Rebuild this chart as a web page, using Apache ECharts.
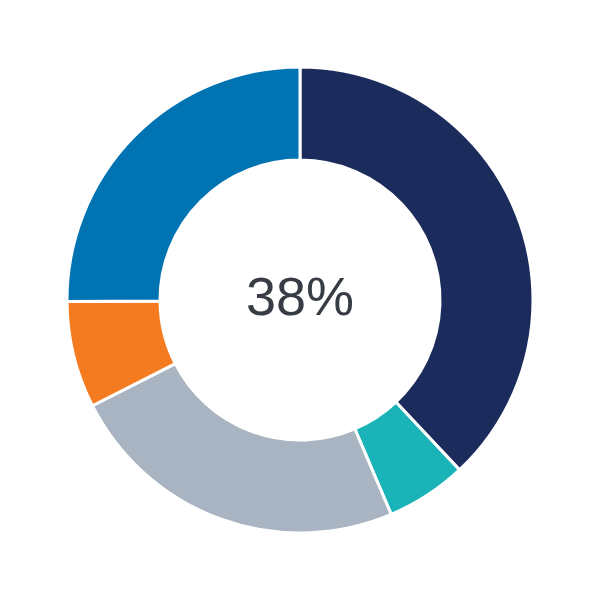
<!DOCTYPE html>
<html lang="en">
<head>
    <meta charset="UTF-8">
    <title>Donut</title>
    <style>
        html, body { margin: 0; padding: 0; background: #fff; }
    </style>
</head>
<body>

<div id="main" style="width: 600px;height:600px;"></div>

<script src="https://cdn.jsdelivr.net/npm/echarts@6/dist/echarts.min.js"></script>
<script type="text/javascript">
    // data, clockwise from 12 o'clock
    var names = ['A', 'B', 'C', 'D', 'E'];
    var values = [38, 5.6, 23.9, 7.4, 25.1];
    var colors = ['#1b2b5b', '#1ab3b8', '#a9b4c2', '#f47b20', '#0073b3'];
    var centerText = '38%';

    var data = names.map(function (n, i) {
        return { name: n, value: values[i], itemStyle: { color: colors[i] } };
    });

    var myChart = echarts.init(document.getElementById('main'));

    var option = {
        animation: false,
        title: {
            text: centerText,
            left: 'center',
            top: 'middle',
            textStyle: {
                fontFamily: 'Liberation Sans',
                fontSize: 54,
                fontWeight: 'normal',
                color: '#373c45'
            }
        },
        series: [
            {
                type: 'pie',
                center: ['50%', '50%'],
                radius: [140, 233],
                startAngle: 90,
                clockwise: true,
                label: { show: false },
                labelLine: { show: false },
                emphasis: { disabled: true },
                itemStyle: {
                    borderColor: '#fff',
                    borderWidth: 3
                },
                data: data
            }
        ]
    };

    myChart.setOption(option);
</script>
</body>
</html>
